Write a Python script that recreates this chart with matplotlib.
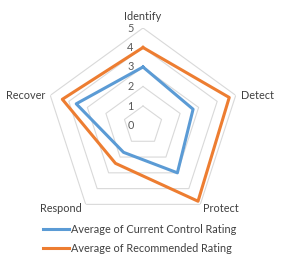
import matplotlib
matplotlib.use("Agg")
import matplotlib.pyplot as plt
import numpy as np

plt.rcParams['font.family'] = ['Lato', 'DejaVu Sans']

# data
categories = ["Identify", "Detect", "Protect", "Respond", "Recover"]
current = [3.0, 2.7, 3.0, 1.7, 3.6]
recommended = [4.0, 4.65, 4.8, 2.4, 4.35]
r_ticks = [0, 1, 2, 3, 4, 5]
series_names = ["Average of Current Control Rating", "Average of Recommended Rating"]

blue = "#5B9BD5"
orange = "#ED7D31"
grid_c = "#D9D9D9"
fs = 7.8

W, H = 284, 257
fig = plt.figure(figsize=(W / 100, H / 100), dpi=100)

# polar axes placed so the center sits at (143, 125.5) px, radius 97.5 px
cx, cy, R = 143, 125.5, 97.5
ax = fig.add_axes([(cx - R) / W, (H - cy - R) / H, 2 * R / W, 2 * R / H],
                  projection="polar")
ax.set_theta_zero_location("N")
ax.set_theta_direction(-1)
ax.set_ylim(0, 5)
ax.grid(False)
ax.spines["polar"].set_visible(False)
ax.set_xticks([])
ax.set_yticks([])
ax.patch.set_visible(False)

theta = np.linspace(0, 2 * np.pi, len(categories), endpoint=False)
theta_c = np.append(theta, theta[0])

# pentagon gridlines
for r in r_ticks[1:]:
    ax.plot(theta_c, [r] * len(theta_c), color=grid_c, lw=0.8, zorder=1)

# series
ax.plot(theta_c, current + current[:1], color=blue, lw=2.2, zorder=3,
        label=series_names[0])
ax.plot(theta_c, recommended + recommended[:1], color=orange, lw=2.2, zorder=3,
        label=series_names[1])

# radial value labels
for r in r_ticks:
    ax.annotate(str(r), xy=(0, r), xytext=(-12.5, 0), textcoords="offset pixels",
                ha="center", va="center", fontsize=fs, color="#595959",
                annotation_clip=False)

# category labels
offsets = [(0, 12, "center"), (5, 0, "left"), (3, -4, "left"),
           (-4, -4, "right"), (-5, 0, "right")]
for t, name, (dx, dy, ha) in zip(theta, categories, offsets):
    ax.annotate(name, xy=(t, 5), xytext=(dx, dy), textcoords="offset pixels",
                ha=ha, va="center", fontsize=fs, color="#404040",
                annotation_clip=False)

fig.legend(loc="center left", bbox_to_anchor=(43 / W, (H - 239) / H),
           frameon=False, fontsize=fs, handlelength=2.4, handletextpad=0.2,
           labelspacing=0.75, borderpad=0, borderaxespad=0,
           labelcolor="#404040")

fig.savefig("out.png", dpi=100)
